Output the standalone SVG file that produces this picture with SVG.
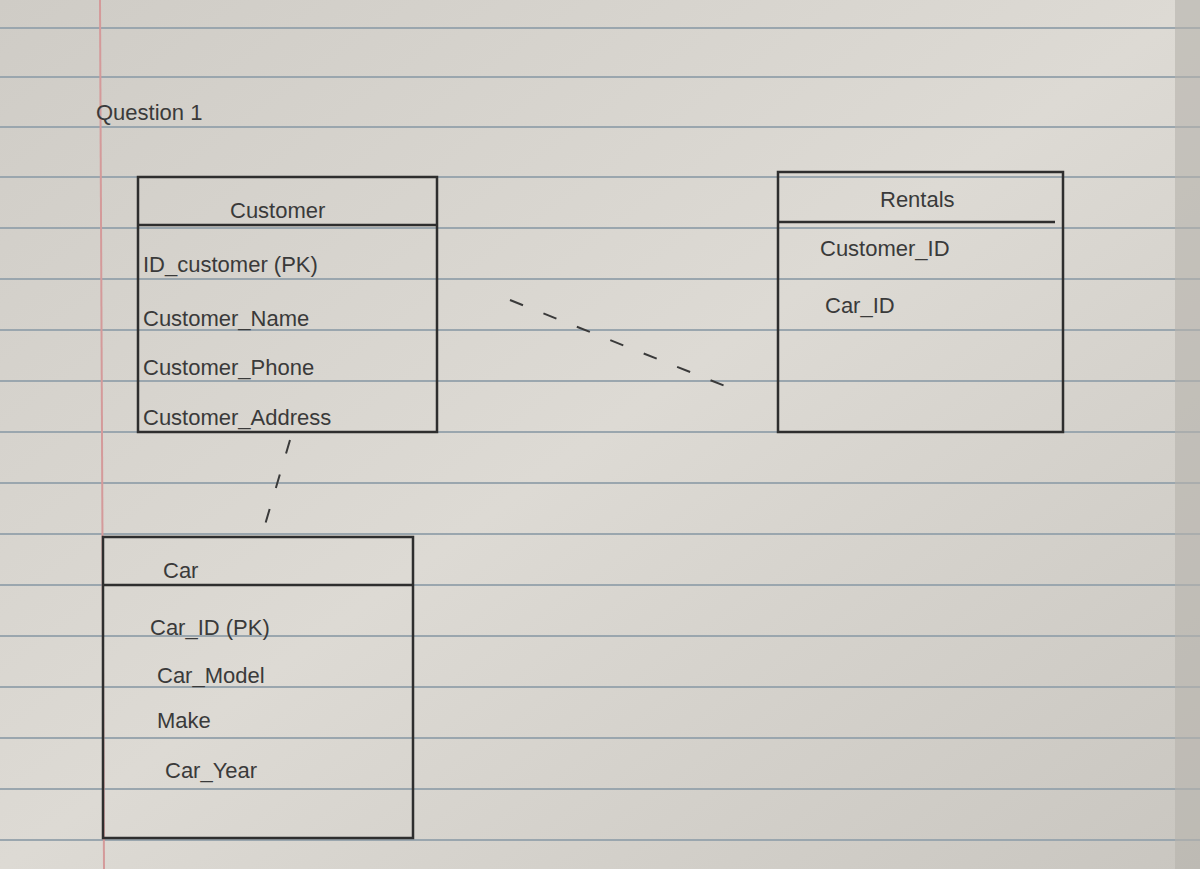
<svg xmlns="http://www.w3.org/2000/svg" width="1200" height="869" viewBox="0 0 1200 869">
<defs>
<linearGradient id="bg" x1="0" y1="0" x2="1" y2="1">
<stop offset="0" stop-color="#cfccc6"/><stop offset="0.5" stop-color="#dddad4"/><stop offset="1" stop-color="#c9c6c0"/>
</linearGradient>
<style>
.rule{stroke:#9aa6ae;stroke-width:2}
.box{fill:none;stroke:#2e2e2e;stroke-width:2.5}
.t{font-family:"Liberation Sans",sans-serif;font-size:22px;fill:#3a3a3a}
.dash{stroke:#3a3a3a;stroke-width:2;stroke-dasharray:14 22;fill:none}
</style>
</defs>
<rect width="1200" height="869" fill="url(#bg)"/>
<g id="paper">
<line class="rule" x1="0" y1="28" x2="1200" y2="28"/>
<line class="rule" x1="0" y1="77" x2="1200" y2="77"/>
<line class="rule" x1="0" y1="127" x2="1200" y2="127"/>
<line class="rule" x1="0" y1="177" x2="1200" y2="177"/>
<line class="rule" x1="0" y1="228" x2="1200" y2="228"/>
<line class="rule" x1="0" y1="279" x2="1200" y2="279"/>
<line class="rule" x1="0" y1="330" x2="1200" y2="330"/>
<line class="rule" x1="0" y1="381" x2="1200" y2="381"/>
<line class="rule" x1="0" y1="432" x2="1200" y2="432"/>
<line class="rule" x1="0" y1="483" x2="1200" y2="483"/>
<line class="rule" x1="0" y1="534" x2="1200" y2="534"/>
<line class="rule" x1="0" y1="585" x2="1200" y2="585"/>
<line class="rule" x1="0" y1="636" x2="1200" y2="636"/>
<line class="rule" x1="0" y1="687" x2="1200" y2="687"/>
<line class="rule" x1="0" y1="738" x2="1200" y2="738"/>
<line class="rule" x1="0" y1="789" x2="1200" y2="789"/>
<line class="rule" x1="0" y1="840" x2="1200" y2="840"/>
<line x1="100" y1="0" x2="104" y2="869" stroke="#d49a9a" stroke-width="2"/>
<rect x="1175" y="0" width="25" height="869" fill="#b5b2ac" opacity="0.6"/>
</g>
<text class="t" x="96" y="120">Question 1</text>
<g id="customer">
<rect class="box" x="138" y="177" width="299" height="255"/>
<line class="box" x1="138" y1="225" x2="437" y2="225"/>
<text class="t" x="230" y="218">Customer</text>
<text class="t" x="143" y="272">ID_customer (PK)</text>
<text class="t" x="143" y="326">Customer_Name</text>
<text class="t" x="143" y="375">Customer_Phone</text>
<text class="t" x="143" y="425">Customer_Address</text>
</g>
<g id="rentals">
<rect class="box" x="778" y="172" width="285" height="260"/>
<line class="box" x1="778" y1="222" x2="1055" y2="222"/>
<text class="t" x="880" y="207">Rentals</text>
<text class="t" x="820" y="256">Customer_ID</text>
<text class="t" x="825" y="313">Car_ID</text>
</g>
<g id="car">
<rect class="box" x="103" y="537" width="310" height="301"/>
<line class="box" x1="103" y1="585" x2="413" y2="585"/>
<text class="t" x="163" y="578">Car</text>
<text class="t" x="150" y="635">Car_ID (PK)</text>
<text class="t" x="157" y="683">Car_Model</text>
<text class="t" x="157" y="728">Make</text>
<text class="t" x="165" y="778">Car_Year</text>
</g>
<g id="connectors">
<path class="dash" d="M290 440 L262 535"/>
<path class="dash" d="M510 300 L740 392"/>
</g>
</svg>
